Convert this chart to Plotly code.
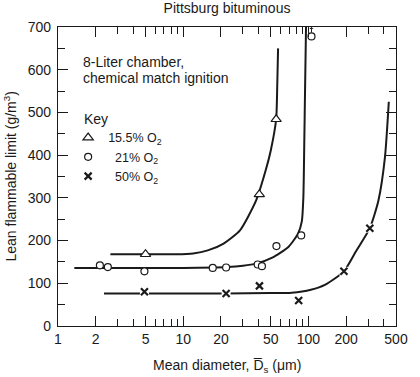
import numpy as np
import plotly.graph_objects as go

# ---- data ----
tri_x = [5, 40.5, 55.2]
tri_y = [168, 308, 484]
circ_x = [2.16, 2.5, 4.9, 17.2, 22, 39.3, 42.5, 55.5, 87.5, 105.7]
circ_y = [142, 138, 128, 136, 137, 144, 140, 187, 212, 678]
xm_x = [4.9, 22, 40.6, 83.5, 192, 309]
xm_y = [80, 76, 94, 59.5, 128, 229]

curve_a_x = [2.62, 5, 8.7, 12, 15.7, 21, 28.4, 38.2, 45.6, 50, 55.2, 56.3, 57.2]
curve_a_y = [168, 168, 168, 170, 177, 193, 224, 294, 365, 411, 484, 560, 650]
curve_b_x = [1.35, 5, 10, 22.4, 30, 38.2, 51.4, 69.1, 82.5, 88.5, 91, 92.5, 94, 95.6]
curve_b_y = [136, 136, 136, 138, 141, 146, 160, 185, 216, 245, 300, 420, 560, 700]
curve_c_x = [2.33, 5, 22, 50, 73.4, 104.5, 136.5, 192, 241, 309, 362, 408, 438]
curve_c_y = [76, 76, 76, 77, 78, 85, 97, 128, 176, 229, 294, 395, 525]

x_tickvals = [1, 2, 5, 10, 20, 50, 100, 200, 500]
x_minor = [3, 4, 6, 7, 8, 9, 30, 40, 60, 70, 80, 90, 300, 400]
labels = ["15.5% O<sub>2</sub>", "\u00a0\u00a021% O<sub>2</sub>", "\u00a0\u00a050% O<sub>2</sub>"]

FONT = "Liberation Sans, Arial, sans-serif"
INK = "#1a1a1a"

fig = go.Figure()
for cx, cy in [(curve_a_x, curve_a_y), (curve_b_x, curve_b_y), (curve_c_x, curve_c_y)]:
    fig.add_trace(go.Scatter(x=cx, y=cy, mode="lines", showlegend=False, hoverinfo="skip",
                             line=dict(color=INK, width=2, shape="spline", smoothing=0.6)))

# white patches behind X markers (gaps in the line)
fig.add_trace(go.Scatter(x=xm_x, y=xm_y, mode="markers", showlegend=False, hoverinfo="skip",
                         marker=dict(symbol="square", size=9, color="white")))

fig.add_trace(go.Scatter(x=tri_x, y=tri_y, mode="markers", name=labels[0],
                         marker=dict(symbol="triangle-up", size=9, color="white",
                                     line=dict(color=INK, width=1.2))))
fig.add_trace(go.Scatter(x=circ_x, y=circ_y, mode="markers", name=labels[1],
                         marker=dict(symbol="circle", size=7, color="white",
                                     line=dict(color=INK, width=1.2))))
fig.add_trace(go.Scatter(x=xm_x, y=xm_y, mode="markers", name=labels[2],
                         marker=dict(symbol="x-thin", size=7, color=INK,
                                     line=dict(color=INK, width=2.2))))

axis_common = dict(showline=True, linecolor=INK, linewidth=1.3, mirror="ticks",
                   ticks="inside", tickcolor=INK, tickwidth=1.3, ticklen=10,
                   showgrid=False, zeroline=False,
                   tickfont=dict(family=FONT, size=14, color=INK))

fig.update_xaxes(type="log", range=[0, np.log10(500)], tickmode="array",
                 tickvals=x_tickvals, ticktext=[str(v) for v in x_tickvals],
                 minor=dict(tickmode="array", tickvals=x_minor, ticks="inside",
                            ticklen=7, tickcolor=INK, tickwidth=1.3),
                 **axis_common)
fig.update_yaxes(range=[0, 700], tickmode="linear", tick0=0, dtick=100,
                 ticklabelstandoff=3,
                 minor=dict(dtick=50, ticks="inside", ticklen=7, tickcolor=INK, tickwidth=1.3),
                 **axis_common)

ann = [
    dict(text="8-Liter chamber,", x=0.068, y=0.883),
    dict(text="chemical match ignition", x=0.068, y=0.831),
    dict(text="Key", x=0.071, y=0.691),
]
for a in ann:
    fig.add_annotation(xref="paper", yref="paper", xanchor="left", yanchor="middle",
                       showarrow=False, font=dict(family=FONT, size=14, color=INK), **a)

# axis titles
fig.add_annotation(xref="paper", yref="paper", x=0.5, y=0, yshift=-40, yanchor="middle",
                   showarrow=False, text="Mean diameter, D\u0305<sub>s</sub> (\u03bcm)",
                   font=dict(family=FONT, size=14, color=INK))
fig.add_annotation(xref="paper", yref="paper", x=0, xshift=-48, y=0.5, xanchor="center",
                   yanchor="middle", textangle=-90, showarrow=False,
                   text="Lean flammable limit (g/m<sup>3</sup>)",
                   font=dict(family=FONT, size=14, color=INK))

# small arrow on the off-scale circle
fig.add_annotation(x=np.log10(circ_x[-1]), y=700, ax=0, ay=7, axref="pixel", ayref="pixel",
                   text="", showarrow=True, arrowhead=1, arrowsize=0.7, arrowwidth=1,
                   arrowcolor=INK)

fig.update_layout(
    width=420, height=377,
    margin=dict(l=58, r=12, t=27, b=51),
    paper_bgcolor="white", plot_bgcolor="white",
    title=dict(text="Pittsburg bituminous", x=0.5, xref="paper", y=1 - 8 / 377,
               yanchor="middle", font=dict(family=FONT, size=14, color=INK)),
    showlegend=True,
    legend=dict(x=0.03, y=0.679, xanchor="left", yanchor="top", bgcolor="rgba(0,0,0,0)",
                font=dict(family=FONT, size=12.5, color=INK), itemwidth=30,
                tracegroupgap=0),
    font=dict(family=FONT, color=INK),
)

fig.write_html("out.html", config={"displayModeBar": False},
               post_script="document.body.style.margin='0px';")
